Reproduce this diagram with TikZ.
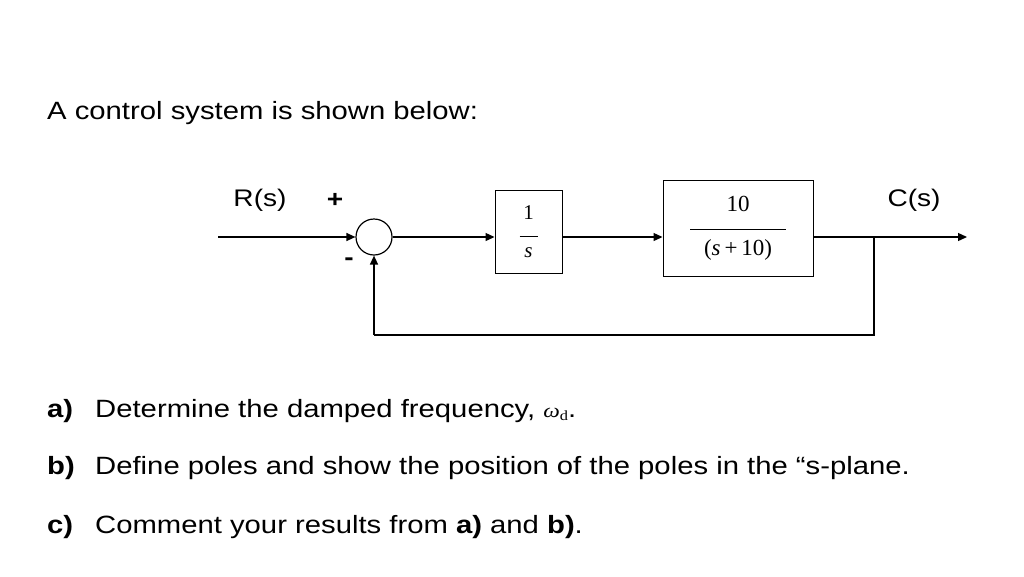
\documentclass[tikz,border=0pt]{standalone}
\usepackage{fontspec}
\setmainfont{Liberation Sans}
\newfontfamily\tnr{Liberation Serif}
\usetikzlibrary{arrows.meta}
\begin{document}
\begin{tikzpicture}[x=1pt,y=-1pt,
  txt/.style={anchor=west,inner sep=0,font=\fontsize{25}{30}\selectfont,xscale=1.17},
  lbl/.style={inner sep=0,font=\fontsize{24}{28}\selectfont,xscale=1.17},
  blk/.style={draw,line width=1pt,inner sep=0},
  sig/.style={line width=1.3pt,-{Triangle[length=9pt,width=8pt]}},
  wire/.style={line width=1.3pt}]
\useasboundingbox (0,0) rectangle (1024,576);
\node[txt] (title) at (47,113) {A control system is shown below:};
\node[lbl] (R) at (260,200) {R(s)};
\node[lbl] (plus) at (335,200) {\textbf{+}};
\node[lbl] (minus) at (349,262) {\textbf{-}};
\node[lbl] (C) at (914,200) {C(s)};
\node[draw,circle,line width=1.2pt,minimum size=36pt,inner sep=0] (sum) at (374,237) {};
\node[blk,minimum width=67pt,minimum height=83pt] (g1) at (528.5,231.5) {};
\node[font=\tnr\fontsize{21}{24}\selectfont,align=center,inner sep=0] (g1t) at (g1) {1\\[-7pt]\rule{18pt}{0.8pt}\\[-3pt]\itshape s};
\node[blk,minimum width=150pt,minimum height=96pt] (g2) at (738,228) {};
\node[font=\tnr\fontsize{23}{27}\selectfont,align=center,inner sep=0] (g2t) at (g2) {10\\[-8pt]\rule{96pt}{0.8pt}\\[-2pt](\textit{s}\,+\,10)};
\coordinate (in) at (218,237);
\coordinate (out) at (967,237);
\coordinate (br) at (874,237);
\coordinate (bd) at (874,335);
\coordinate (bl) at (374,335);
\draw[sig] (in) -- (sum.west);
\draw[sig] (sum.east) -- (g1.west |- sum.east);
\draw[sig] (g1.east |- sum) -- (g2.west |- sum);
\draw[sig] (g2.east |- sum) -- (out);
\draw[wire] (br) -- (bd) -- (bl);
\draw[sig] (bl) -- (sum.south);
\node[txt] (la) at (47,411) {\textbf{a)}};
\node[txt] (qa) at (95,411) {Determine the damped frequency, {\tnr\fontsize{20}{24}\selectfont\itshape ω\raisebox{-3pt}{\upshape\fontsize{14}{16}\selectfont d}}.};
\node[txt] (lb) at (47,468) {\textbf{b)}};
\node[txt] (qb) at (95,468) {Define poles and show the position of the poles in the “s-plane.};
\node[txt] (lc) at (47,527) {\textbf{c)}};
\node[txt] (qc) at (95,527) {Comment your results from \textbf{a)} and \textbf{b)}.};
\end{tikzpicture}
\end{document}
